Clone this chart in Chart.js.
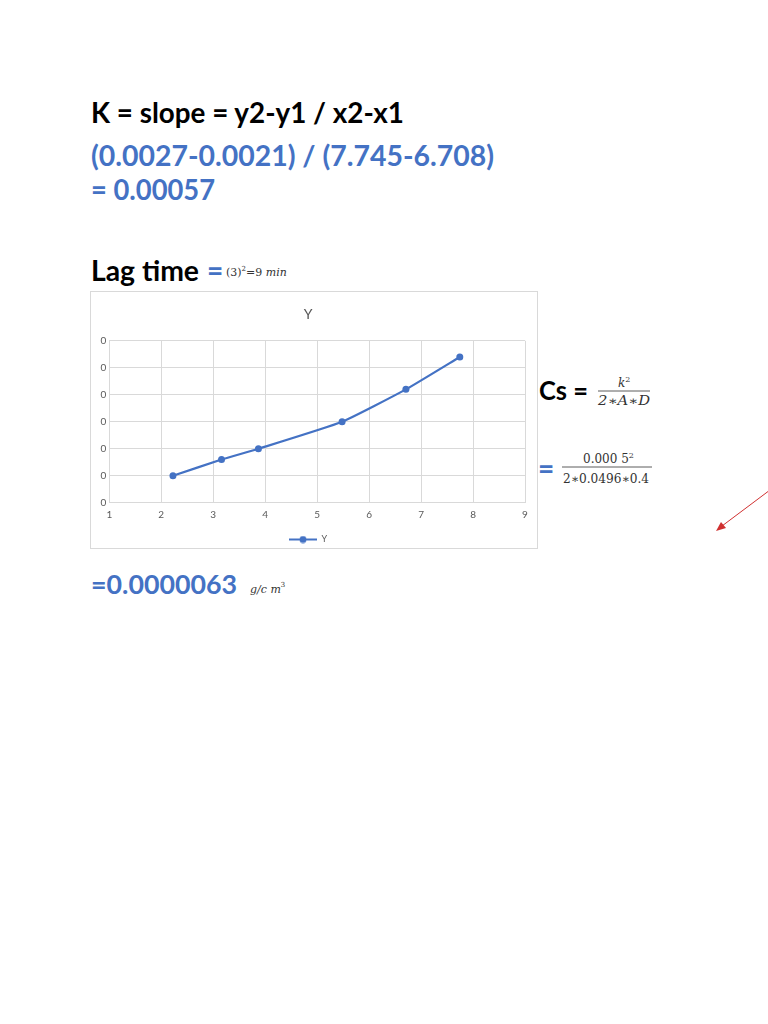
<!DOCTYPE html>
<html>
<head>
<meta charset="utf-8">
<script src="https://cdn.jsdelivr.net/npm/chart.js@4.4.1/dist/chart.umd.min.js"></script>
<style>
  body { margin: 0; background: #fff; }
  #page { position: relative; width: 768px; height: 1024px; overflow: hidden; }
  #notes { position: absolute; left: 0; top: 0; }
  #box { position: absolute; left: 90px; top: 291px; width: 448px; height: 258px;
         border: 1px solid #d9d9d9; box-sizing: border-box; background: #fff; }
  .big { font-family: Lato, "Open Sans", sans-serif; font-weight: bold; }
  .math { font-family: "DejaVu Serif", "Liberation Serif", serif; }
</style>
</head>
<body>
<div id="page">
<svg id="notes" width="768" height="1024">
  <text class="big" x="91" y="123" font-size="28" fill="#000" textLength="313" lengthAdjust="spacingAndGlyphs">K = slope = y2-y1 / x2-x1</text>
  <text class="big" x="91" y="166" font-size="28" fill="#4472C4" textLength="403" lengthAdjust="spacingAndGlyphs">(0.0027-0.0021) / (7.745-6.708)</text>
  <text class="big" x="91" y="200" font-size="28" fill="#4472C4" textLength="124" lengthAdjust="spacingAndGlyphs">= 0.00057</text>
  <text class="big" x="91" y="281" font-size="28" fill="#000" textLength="108" lengthAdjust="spacingAndGlyphs">Lag time</text>
  <text class="big" x="207" y="281" font-size="28" fill="#4472C4">=</text>
  <text class="math" x="226" y="276" font-size="11" fill="#333">(3)<tspan dy="-5" font-size="7">2</tspan><tspan dy="5">=9 </tspan><tspan font-style="italic">min</tspan></text>

  <text class="big" x="539" y="400" font-size="27" fill="#000" textLength="49" lengthAdjust="spacingAndGlyphs">Cs =</text>
  <text class="math" x="618" y="387" font-size="12" font-style="italic" fill="#333">k<tspan dy="-5" font-size="8" font-style="normal">2</tspan></text>
  <line x1="598" y1="391" x2="650" y2="391" stroke="#333" stroke-width="0.8"/>
  <text class="math" x="598" y="405" font-size="12" font-style="italic" fill="#333" textLength="52" lengthAdjust="spacingAndGlyphs">2∗A∗D</text>

  <text class="big" x="538" y="479" font-size="28" fill="#4472C4">=</text>
  <text class="math" x="583" y="463" font-size="12" fill="#333">0.000 5<tspan dy="-5" font-size="8">2</tspan></text>
  <line x1="562" y1="467" x2="652" y2="467" stroke="#333" stroke-width="0.8"/>
  <text class="math" x="563" y="483" font-size="12" fill="#333" textLength="86" lengthAdjust="spacingAndGlyphs">2∗0.0496∗0.4</text>

  <line x1="770" y1="490" x2="722" y2="526" stroke="#d03030" stroke-width="1"/>
  <polygon points="716,531 721,522 726,528" fill="#d03030"/>

  <text class="big" x="91" y="594" font-size="27" fill="#4472C4" textLength="146" lengthAdjust="spacingAndGlyphs">=0.0000063</text>
  <text class="math" x="250" y="593" font-size="11" font-style="italic" fill="#333">g/c m<tspan dy="-6" font-size="7" font-style="normal">3</tspan></text>
</svg>
<div id="box"><canvas id="chart" width="446" height="256"></canvas></div>
</div>
<script>
// data
var xValues = [2.225, 3.16, 3.87, 5.48, 6.708, 7.745];
var yValues = [0.0005, 0.0008, 0.001, 0.0015, 0.0021, 0.0027];
var xTickLabels = ['1', '2', '3', '4', '5', '6', '7', '8', '9'];
var yTickLabels = ['0', '0', '0', '0', '0', '0', '0'];

var blue = '#4472C4';
var grid = '#d9d9d9';
var tickColor = '#595959';

// little legend swatch: line with a dot, like Excel
var swatch = document.createElement('canvas');
swatch.width = 28;
swatch.height = 8;
var sc = swatch.getContext('2d');
sc.strokeStyle = blue;
sc.lineWidth = 2;
sc.beginPath(); sc.moveTo(0, 4); sc.lineTo(28, 4); sc.stroke();
sc.fillStyle = blue;
sc.beginPath(); sc.arc(14, 4, 3.5, 0, Math.PI * 2); sc.fill();

var pts = xValues.map(function(x, i) { return {x: x, y: yValues[i]}; });

var ctx = document.getElementById('chart');
var myChart = new Chart(ctx, {
  type: 'line',
  data: {
    datasets: [{
      label: 'Y',
      data: pts,
      borderColor: blue,
      backgroundColor: blue,
      borderWidth: 2.25,
      pointRadius: 3.5,
      pointBorderWidth: 0,
      tension: 0.15,
      fill: false
    }]
  },
  options: {
    responsive: false,
    animation: false,
    // negative bottom padding pushes the legend a bit lower, like Excel
    layout: { padding: { left: 0, right: 12, top: 0, bottom: -6 } },
    plugins: {
      title: {
        display: true,
        text: 'Y',
        color: tickColor,
        font: { family: 'Lato', size: 14, weight: 'normal' },
        padding: { top: 14, bottom: 18 }
      },
      legend: {
        position: 'bottom',
        labels: {
          usePointStyle: true,
          pointStyleWidth: 28,
          padding: 0,
          color: tickColor,
          font: { family: 'Lato', size: 9 },
          generateLabels: function(chart) {
            return [{ text: 'Y', pointStyle: swatch, fontColor: tickColor, lineWidth: 0, datasetIndex: 0 }];
          }
        }
      },
      tooltip: { enabled: false }
    },
    scales: {
      x: {
        type: 'linear',
        min: 1,
        max: 9,
        afterFit: function(s) { s.height = 32.3; },
        ticks: {
          stepSize: 1,
          padding: 6,
          color: tickColor,
          font: { family: 'Lato', size: 10 },
          callback: function(v, i) { return xTickLabels[i]; }
        },
        grid: { color: grid, drawTicks: false },
        border: { color: grid }
      },
      y: {
        min: 0,
        max: 0.003,
        afterFit: function(s) { s.width = 18.3; },
        ticks: {
          stepSize: 0.0005,
          padding: 3,
          color: tickColor,
          font: { family: 'Lato', size: 10 },
          callback: function(v, i) { return yTickLabels[i]; }
        },
        grid: { color: grid, drawTicks: false },
        border: { color: grid }
      }
    }
  }
});
</script>
</body>
</html>
